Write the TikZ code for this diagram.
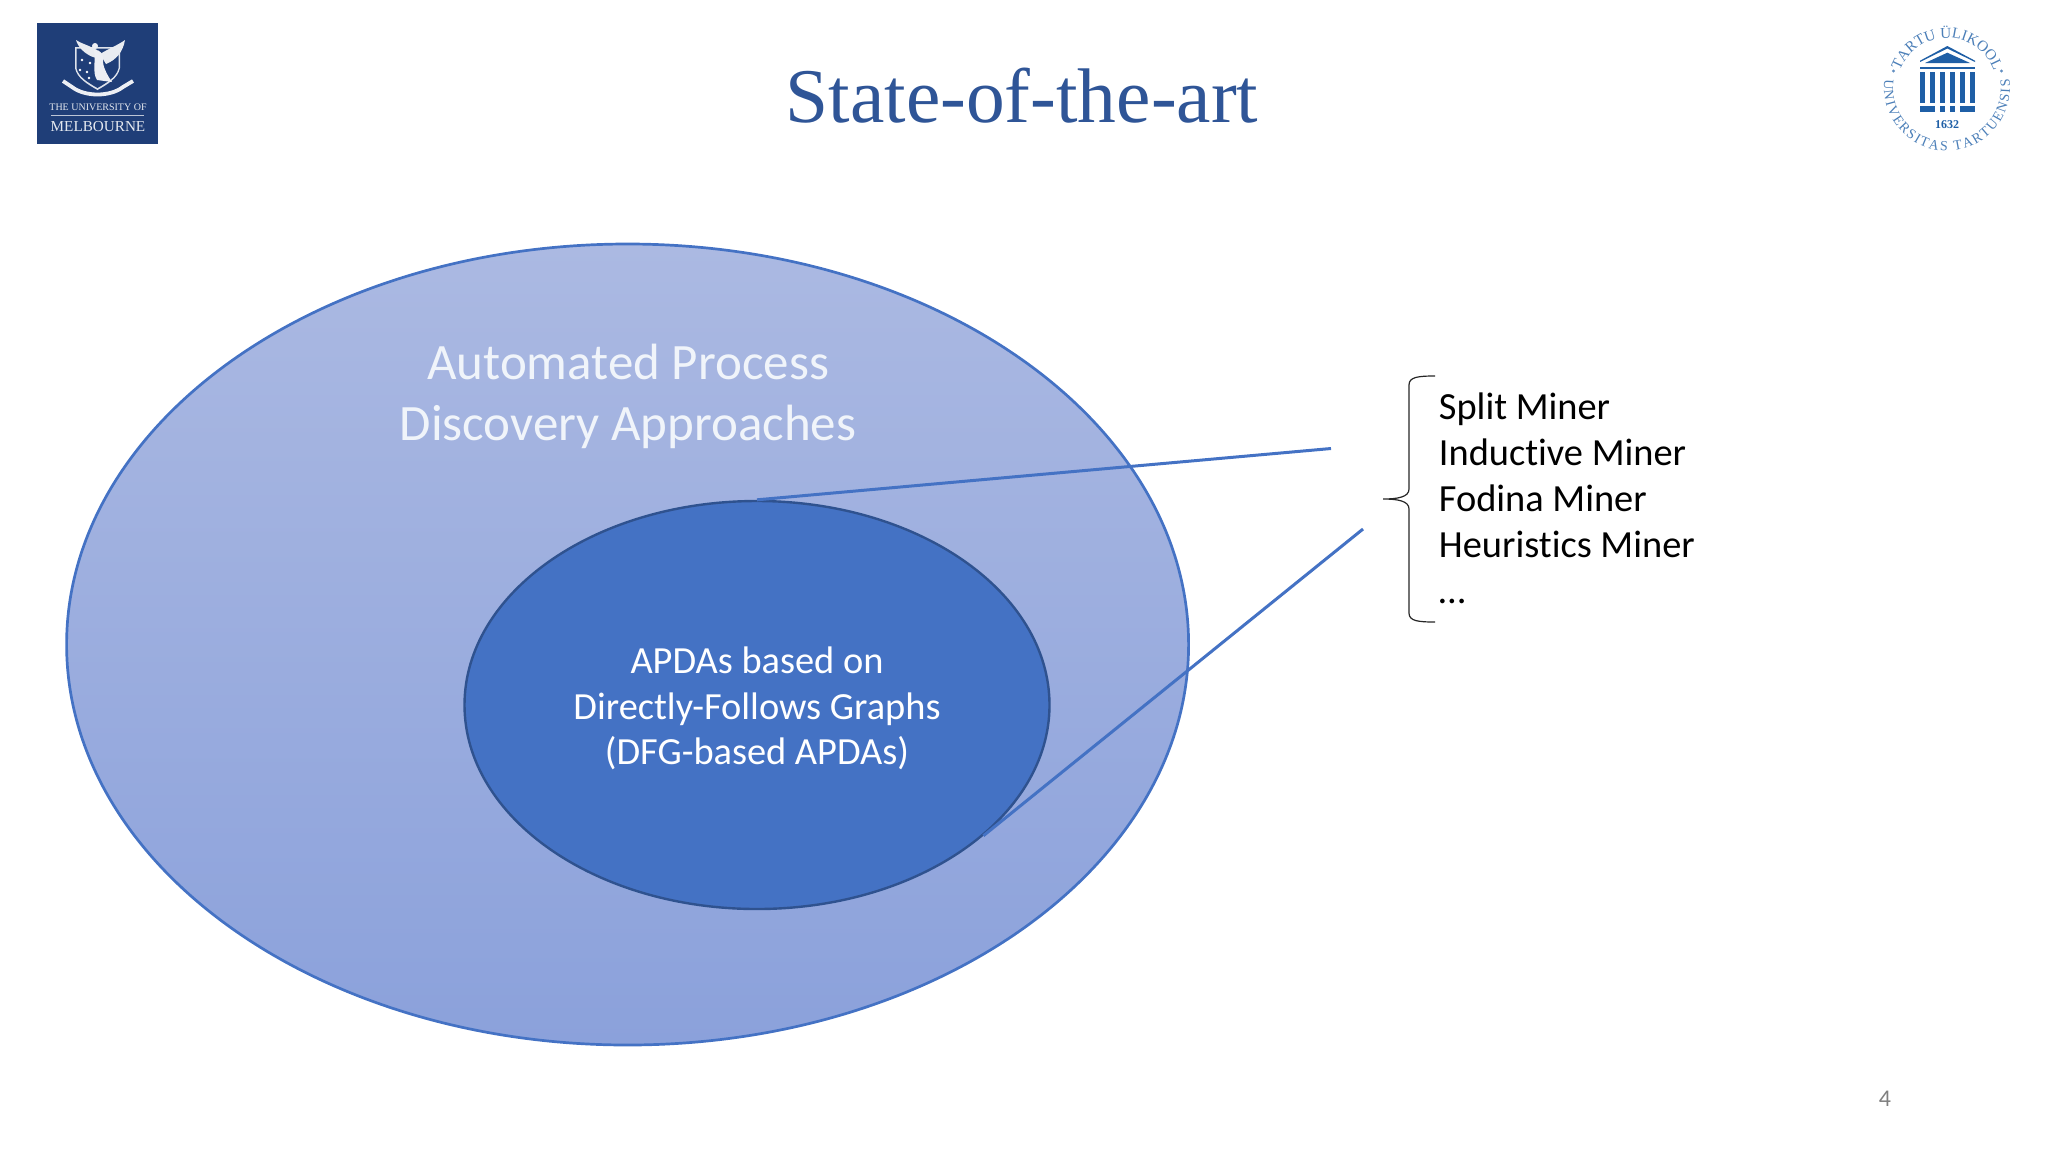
\documentclass[tikz,border=0pt]{standalone}
\usepackage{fontspec}
\setmainfont{Carlito}[Ligatures=NoCommon]
\newfontfamily\ttlfont{Liberation Serif}
\usetikzlibrary{shapes.geometric,decorations.text}
\definecolor{accentblue}{HTML}{4472C4}
\definecolor{innerline}{HTML}{2F528F}
\definecolor{titleblue}{HTML}{2F5597}
\definecolor{melb}{HTML}{1F3E78}
\definecolor{tartu}{HTML}{1F5FA6}
\definecolor{bigtop}{HTML}{ABB9E2}
\definecolor{bigbot}{HTML}{8BA1DB}
\tikzset{
  outerell/.style={ellipse,draw=accentblue,line width=1.35pt,top color=bigtop,bottom color=bigbot,minimum width=561pt,minimum height=400.5pt,inner sep=0pt},
  innerell/.style={ellipse,draw=innerline,line width=1.2pt,fill=accentblue,minimum width=292.5pt,minimum height=204pt,inner sep=0pt},
  innerlabel/.style={text=white,align=center,font=\fontsize{19.2pt}{22.9pt}\selectfont,inner sep=0pt},
  biglabel/.style={text=white!92!accentblue,align=center,font=\fontsize{25.5pt}{30.6pt}\selectfont,inner sep=0pt},
  listlabel/.style={align=left,anchor=north west,font=\fontsize{19.2pt}{22.95pt}\selectfont,inner sep=0pt},
  link/.style={draw=accentblue,line width=1.5pt},
  melbtext/.style={text=white!88!melb,inner sep=0pt},
  tartutxt/.style={text=tartu,inner sep=0pt},
}
\begin{document}
\begin{tikzpicture}[x=0.5pt,y=-0.5pt]
\useasboundingbox (0,0) rectangle (2048,1152);
% title
\node[text=titleblue,font=\ttlfont\fontsize{38.7pt}{44pt}\selectfont,inner sep=0pt] (title) at (1022,96) {State-of-the-art};
% ellipses
\node[outerell] (outer) at (627.6,644.5) {};
\node[innerell] (inner) at (757,705) {};
\node[innerlabel] (innerlabel) at (757,708.5) {APDAs based on\\Directly-Follows Graphs\\(DFG-based APDAs)};
\node[biglabel] (outerlabel) at (628,396) {Automated Process\\Discovery Approaches};
% connectors
\coordinate (ua) at (1331,448.5);
\coordinate (lb) at (1363,529);
\draw[link] (inner.north) -- (ua);
\draw[link] (inner.-30) -- (lb);
% brace
\draw[line width=0.6pt,black!85] (1435,376) .. controls (1418,376) and (1409,377) .. (1409,385)
  -- (1409,489) .. controls (1409,497) and (1398,499) .. (1383,499)
  .. controls (1398,499) and (1409,501) .. (1409,509)
  -- (1409,613) .. controls (1409,621) and (1418,622) .. (1435,622);
\node[listlabel] (list) at (1438.5,392.5) {Split Miner\\Inductive Miner\\Fodina Miner\\Heuristics Miner\\\ldots};
% page number
\node[text=black!50,font=\fontsize{12pt}{14pt}\selectfont,inner sep=0pt] (page) at (1885,1099) {4};
% Melbourne logo
\fill[melb] (37.3,23) rectangle (158,144);
\fill[white!85!melb] (75,47) -- (120,47) -- (120,68) .. controls (118,78) and (108,84) .. (97.5,90) .. controls (87,84) and (77,78) .. (75,68) -- cycle;
\fill[melb] (76.5,48.5) -- (118.5,48.5) -- (118.5,68) .. controls (116.5,77) and (107,82.5) .. (97.5,88) .. controls (88,82.5) and (78.5,77) .. (76.5,68) -- cycle;
\fill[white!90!melb] (97,50) .. controls (88,45) and (80,43) .. (76,40) .. controls (78,47) and (85,55) .. (96,58) -- cycle;
\fill[white!90!melb] (100,54) .. controls (110,48) and (118,45) .. (125,40) .. controls (123,52) and (116,60) .. (106,64) -- cycle;
\fill[white!92!melb] (95,46) circle (3);
\fill[white!92!melb] (94,50) .. controls (100,49) and (104,54) .. (103,62) .. controls (104,70) and (108,76) .. (112,82) -- (97,80) .. controls (92,72) and (96,62) .. (94,50) -- cycle;
\foreach \sx/\sy in {82/60,90/63,80/70,87/72,89/78}{\fill[white] (\sx,\sy) circle (1.3);}
\draw[white!92!melb,line width=1.9pt] (63,81) -- (72,87) .. controls (85,97) and (110,97) .. (123,87) -- (133,81);
\node[melbtext,font=\ttlfont\fontsize{5pt}{6pt}\selectfont] (melbtop) at (98,107) {THE UNIVERSITY OF};
\draw[white!70!melb,line width=0.4pt] (51,115) -- (144,115);
\node[melbtext,font=\ttlfont\fontsize{7.6pt}{9pt}\selectfont] (melbname) at (98,127) {MELBOURNE};
% Tartu logo
\fill[tartu] (1920,60.7) -- (1947.3,46) -- (1975,60.7) -- (1975,62) -- (1947.3,48.5) -- (1920,62) -- cycle;
\fill[tartu] (1925,63) -- (1947.3,52.7) -- (1970,63) -- cycle;
\fill[tartu] (1920,66.5) rectangle (1975,69);
\foreach \cx in {1920,1930,1940,1950,1960,1970}{\fill[tartu] (\cx,71.7) rectangle (\cx+5.2,103);}
\fill[tartu] (1920,105.7) rectangle (1935,111.7);
\fill[tartu] (1940,105.7) rectangle (1945,111.7);
\fill[tartu] (1950,105.7) rectangle (1955,111.7);
\fill[tartu] (1960,105.7) rectangle (1975,111.7);
\node[tartutxt,font=\ttlfont\bfseries\fontsize{6pt}{7pt}\selectfont] (year) at (1947,125) {1632};
\fill[tartu!70!white] (1893.5,71) circle (1.6);
\fill[tartu!70!white] (2001.5,71) circle (1.6);
\begin{scope}[shift={(1947,88)},y=0.5pt]
\path[decorate,decoration={text along path,text align=center,text={|\ttlfont\fontsize{7.6pt}{9pt}\selectfont\color{tartu!80!white}|TARTU ÜLIKOOL}}]
  (170:50) arc[start angle=170,end angle=10,radius=25pt];
\path[decorate,decoration={text along path,text align={fit to path},text={|\ttlfont\fontsize{7pt}{9pt}\selectfont\color{tartu!80!white}|UNIVERSITAS TARTUENSIS}}]
  (172:63) arc[start angle=172,end angle=368,radius=31.5pt];
\end{scope}
\end{tikzpicture}
\end{document}
